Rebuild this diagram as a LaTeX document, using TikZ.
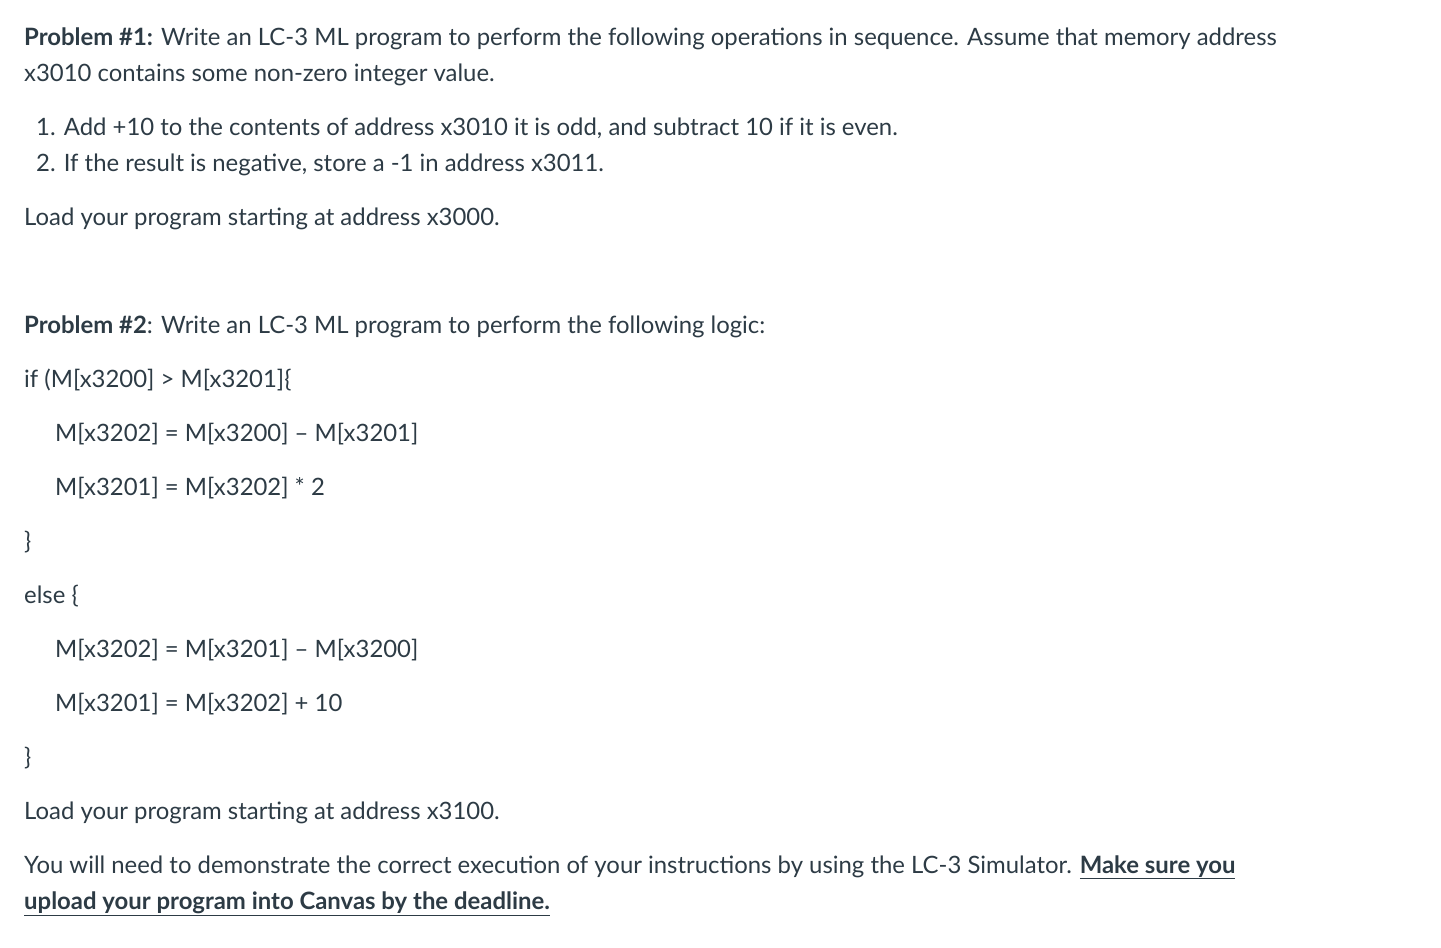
\documentclass[tikz,border=0pt]{standalone}
\usepackage{fontspec}
\setmainfont{Lato}
\definecolor{txt}{HTML}{2D3B45}
\begin{document}
\begin{tikzpicture}[x=1pt,y=-1pt,t/.style={anchor=base west,inner sep=0pt,text=txt,font=\fontsize{23.9}{28}\selectfont}]
\useasboundingbox (0,0) rectangle (1441,948);
\node[t] (l1) at (24,45) {\textbf{Problem \#1:} Write an LC-3 ML program to perform the following operations in sequence. Assume that memory address};
\node[t] (l2) at (24,81) {x3010 contains some non-zero integer value.};
\node[t] (l3) at (36,135) {1. Add +10 to the contents of address x3010 it is odd, and subtract 10 if it is even.};
\node[t] (l4) at (36,171) {2. If the result is negative, store a -1 in address x3011.};
\node[t] (l5) at (24,225) {Load your program starting at address x3000.};
\node[t] (l6) at (24,333) {\textbf{Problem \#2}: Write an LC-3 ML program to perform the following logic:};
\node[t] (l7) at (24,387) {if (M[x3200] > M[x3201]\{};
\node[t] (l8) at (55,441) {M[x3202] = M[x3200] – M[x3201]};
\node[t] (l9) at (55,495) {M[x3201] = M[x3202] * 2};
\node[t] (l10) at (24,549) {\}};
\node[t] (l11) at (24,603) {else \{};
\node[t] (l12) at (55,657) {M[x3202] = M[x3201] – M[x3200]};
\node[t] (l13) at (55,711) {M[x3201] = M[x3202] + 10};
\node[t] (l14) at (24,765) {\}};
\node[t] (l15) at (24,819) {Load your program starting at address x3100.};
\node[t] (l16) at (24,873) {You will need to demonstrate the correct execution of your instructions by using the LC-3 Simulator. \textbf{\underline{Make sure you}}};
\node[t] (l17) at (24,909) {\textbf{\underline{upload your program into Canvas by the deadline.}}};
\end{tikzpicture}
\end{document}
